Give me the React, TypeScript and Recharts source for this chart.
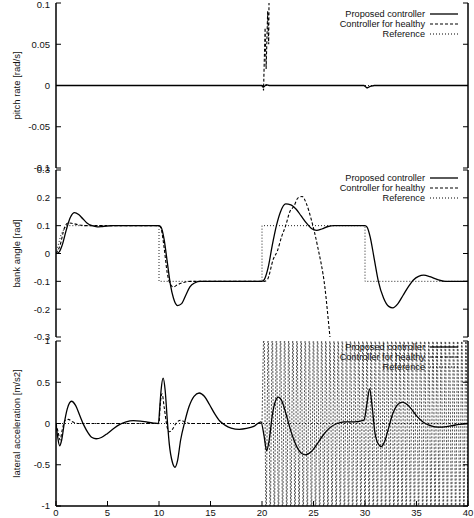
import { LineChart, Line, XAxis, YAxis, Legend } from "recharts"

// time axis
const xTicks = [0, 5, 10, 15, 20, 25, 30, 35, 40]

// pitch rate [rad/s]
const tPitchProp = [0, 20, 20.15, 20.4, 20.7, 29.9, 30.2, 30.5, 30.9, 40]
const pitchProp = [0, 0, -0.002, 0.001, 0, 0, -0.003, -0.001, 0, 0]
const tPitchHealthy = [0, 20, 20.15, 20.3, 20.4, 20.55, 20.65, 20.8, 40]
const pitchHealthy = [0, 0, -0.006, 0.07, 0.02, 0.09, 0.05, 0.3, 0.3]
const tPitchRef = [0, 40]
const pitchRef = [0, 0]
const pitchTicks = [-0.1, -0.05, 0, 0.05, 0.1]

// bank angle [rad]
const tBankProp = [
  0, 0.3, 0.6, 1.0, 1.4, 1.8, 2.2, 2.6, 3.0, 3.5, 4.0, 4.5, 5.5, 10, 10.2, 10.5, 10.8, 11.1, 11.4, 11.8,
  12.2, 12.6, 13.0, 13.5, 14.0, 20, 20.2, 20.6, 21.0, 21.4, 21.8, 22.3, 22.8, 23.3, 23.8, 24.3, 24.8, 25.3,
  25.8, 26.4, 27, 30, 30.2, 30.5, 30.9, 31.3, 31.8, 32.3, 32.7, 33.2, 33.7, 34.2, 34.7, 35.2, 35.7, 36.3, 37,
  37.8, 40,
]
const bankProp = [
  0, 0.005, 0.03, 0.085, 0.13, 0.147, 0.14, 0.125, 0.11, 0.1, 0.096, 0.097, 0.1, 0.1, 0.095, 0.05, -0.03, -0.11,
  -0.16, -0.187, -0.18, -0.15, -0.12, -0.105, -0.1, -0.1, -0.095, -0.05, 0.03, 0.1, 0.15, 0.178, 0.175, 0.16,
  0.135, 0.11, 0.09, 0.083, 0.088, 0.097, 0.1, 0.1, 0.095, 0.06, -0.02, -0.1, -0.16, -0.19, -0.195, -0.18, -0.15,
  -0.12, -0.095, -0.082, -0.078, -0.083, -0.093, -0.1, -0.1,
]
const tBankHealthy = [
  0, 0.4, 0.8, 1.2, 1.6, 2.2, 3, 10, 10.2, 10.5, 10.8, 11.1, 11.4, 11.8, 12.4, 13, 20, 20.2, 20.5, 21.1, 21.5,
  21.9, 22.3, 22.7, 23.1, 23.5, 23.9, 24.3, 24.8, 25.4, 26.1, 26.6, 27.2,
]
const bankHealthy = [
  0, 0.03, 0.09, 0.11, 0.108, 0.103, 0.1, 0.1, 0.09, 0.02, -0.07, -0.11, -0.12, -0.112, -0.104, -0.1, -0.1, -0.1,
  -0.095, -0.02, 0.01, 0.06, 0.1, 0.15, 0.17, 0.2, 0.205, 0.18, 0.12, 0.025, -0.12, -0.3, -0.5,
]
const tBankRef = [0, 0.5, 1, 10, 10, 20, 20, 30, 30, 40]
const bankRef = [0, 0.07, 0.1, 0.1, -0.1, -0.1, 0.1, 0.1, -0.1, -0.1]
const bankTicks = [-0.3, -0.2, -0.1, 0, 0.1, 0.2, 0.3]

// lateral acceleration [m/s2]
const tLatProp = [
  0, 0.15, 0.35, 0.55, 0.8, 1.1, 1.5, 1.9, 2.3, 2.7, 3.1, 3.5, 3.9, 4.4, 5.0, 5.6, 6.2, 6.8, 7.5, 8.2, 8.9, 9.5,
  9.95, 10.05, 10.2, 10.4, 10.6, 10.8, 11.0, 11.3, 11.55, 11.8, 12.1, 12.5, 12.9, 13.4, 13.9, 14.4, 14.9, 15.4,
  15.9, 16.4, 17, 17.8, 18.5, 19.2, 19.9, 20.2, 20.45, 20.7, 21.0, 21.3, 21.6, 21.9, 22.3, 22.7, 23.1, 23.6,
  24.2, 24.8, 25.4, 26, 26.6, 27.3, 28, 29, 29.9, 30.2, 30.45, 30.7, 30.95, 31.3, 31.6, 31.9, 32.3, 32.7, 33.1,
  33.6, 34.1, 34.6, 35.1, 35.6, 36.2, 36.8, 37.5, 38.3, 39.2, 40,
]
const latProp = [
  0, -0.15, -0.27, -0.2, 0.0, 0.18, 0.27, 0.22, 0.1, -0.02, -0.11, -0.17, -0.185, -0.17, -0.12, -0.06, -0.01,
  0.02, 0.035, 0.03, 0.015, 0.005, 0.0, 0.15, 0.4, 0.55, 0.4, 0.05, -0.25, -0.47, -0.53, -0.45, -0.2, 0.02, 0.2,
  0.33, 0.37, 0.33, 0.23, 0.12, 0.03, -0.02, -0.055, -0.07, -0.06, -0.035, 0.02, -0.15, -0.33, -0.2, 0.1, 0.27,
  0.32, 0.28, 0.13, -0.05, -0.2, -0.33, -0.38, -0.34, -0.24, -0.13, -0.05, 0.0, 0.02, 0.02, 0.04, 0.25, 0.42,
  0.2, -0.1, -0.25, -0.28, -0.22, -0.05, 0.12, 0.22, 0.26, 0.23, 0.16, 0.08, 0.02, -0.02, -0.04, -0.045, -0.03,
  -0.01, 0,
]
const tLatHealthy = [
  0, 0.2, 0.4, 0.6, 0.9, 1.2, 1.6, 2.2, 10, 10.1, 10.3, 10.5, 10.8, 11.0, 11.3, 11.7, 12.1, 12.5, 13, 20,
]
const latHealthy = [
  0, -0.1, -0.2, -0.08, 0.04, 0.05, 0.02, 0.0, 0, 0.2, 0.36, 0.2, -0.05, -0.1, -0.07, 0.01, 0.04, 0.02, 0, 0,
]
// healthy controller diverges after t = 20 s, sampled every 0.2 s
const latHatchStart = 20
const latHatchStep = 0.2
const latHealthyHatch = [
  0,
  1.4, -1.4, 1.4, -1.4, 1.4, -1.4, 1.4, -1.4, 1.4, -1.4,
  1.4, -1.4, 1.4, -1.4, 1.4, -1.4, 1.4, -1.4, 1.4, -1.4,
  1.4, -1.4, 1.4, -1.4, 1.4, -1.4, 1.4, -1.4, 1.4, -1.4,
  1.4, -1.4, 1.4, -1.4, 1.4, -1.4, 1.4, -1.4, 1.4, -1.4,
  1.4, -1.4, 1.4, -1.4, 1.4, -1.4, 1.4, -1.4, 1.4, -1.4,
  1.4, -1.4, 1.4, -1.4, 1.4, -1.4, 1.4, -1.4, 1.4, -1.4,
  1.4, -1.4, 1.4, -1.4, 1.4, -1.4, 1.4, -1.4, 1.4, -1.4,
  1.4, -1.4, 1.4, -1.4, 1.4, -1.4, 1.4, -1.4, 1.4, -1.4,
  1.4, -1.4, 1.4, -1.4, 1.4, -1.4, 1.4, -1.4, 1.4, -1.4,
  1.4, -1.4, 1.4, -1.4, 1.4, -1.4, 1.4, -1.4, 1.4, -1.4,
]
const tLatRef = [0, 40]
const latRef = [0, 0]
const latTicks = [-1, -0.5, 0, 0.5, 1]

const zip = (t: number[], v: number[]) => t.map((x, i) => ({ t: x, v: v[i] }))

const font = "'Liberation Sans', Arial, sans-serif"
const ink = "#111"

const legendRows = [
  { name: "Proposed controller", dash: undefined, w: 1.3 },
  { name: "Controller for healthy", dash: "3 2", w: 1.1 },
  { name: "Reference", dash: "1 2", w: 1 },
]

function LegendBox() {
  return (
    <div style={{ fontFamily: font, fontSize: 9.2, color: ink }}>
      {legendRows.map((r) => (
        <div key={r.name} style={{ display: "flex", alignItems: "center", height: 10 }}>
          <span style={{ width: 125, textAlign: "right", lineHeight: "10px", whiteSpace: "nowrap" }}>{r.name}</span>
          <svg width={33} height={10}>
            <line x1={5} x2={33} y1={5} y2={5} stroke="#000" strokeWidth={r.w} strokeDasharray={r.dash} />
          </svg>
        </div>
      ))}
    </div>
  )
}

type Kind = "prop" | "healthy" | "hatch" | "ref"
type Series = { data: { t: number; v: number }[]; kind: Kind; curve?: "monotone" | "linear" }

interface PanelProps {
  top: number
  height: number
  marginTop: number
  marginBottom: number
  domain: [number, number]
  ticks: number[]
  label: string
  series: Series[]
  xLabels?: boolean
  legendTop: number
}

const lineStyle = {
  prop: { stroke: "#000", strokeWidth: 1.3, strokeDasharray: undefined },
  healthy: { stroke: "#000", strokeWidth: 1.1, strokeDasharray: "3 2" },
  hatch: { stroke: "#222", strokeWidth: 0.8, strokeDasharray: "2 1.5" },
  ref: { stroke: "#222", strokeWidth: 1, strokeDasharray: "1 2" },
}

function Panel({ top, height, marginTop, marginBottom, domain, ticks, label, series, xLabels, legendTop }: PanelProps) {
  const tickStyle = { fontSize: 9.5, fill: ink, fontFamily: font }
  const axisLine = { stroke: "#000", strokeWidth: 1.5 }
  return (
    <div style={{ position: "absolute", left: 0, top }}>
      <LineChart width={474} height={height} margin={{ top: marginTop, right: 0, bottom: marginBottom, left: 0 }}>
        <XAxis
          xAxisId="b"
          type="number"
          dataKey="t"
          domain={[0, 40]}
          ticks={xTicks}
          orientation="bottom"
          height={xLabels ? 12 : 0}
          tickSize={-5}
          tickMargin={8}
          axisLine={axisLine}
          tickLine={{ stroke: "#000" }}
          tick={tickStyle}
          tickFormatter={(v) => (xLabels ? String(v) : "")}
          allowDataOverflow
        />
        <XAxis
          xAxisId="top"
          type="number"
          dataKey="t"
          domain={[0, 40]}
          ticks={xTicks}
          orientation="top"
          height={0}
          tickSize={-5}
          axisLine={axisLine}
          tickLine={{ stroke: "#000" }}
          tickFormatter={() => ""}
        />
        <YAxis
          yAxisId="l"
          type="number"
          domain={domain}
          ticks={ticks}
          width={56}
          tickSize={-5}
          tickMargin={11}
          axisLine={axisLine}
          tickLine={{ stroke: "#000" }}
          tick={tickStyle}
          tickFormatter={(v) => String(v)}
          allowDataOverflow
          label={{
            value: label,
            angle: -90,
            position: "insideLeft",
            offset: 17,
            style: { textAnchor: "middle", fontSize: 9.5, fill: ink, fontFamily: font },
          }}
        />
        <YAxis
          yAxisId="r"
          type="number"
          orientation="right"
          domain={domain}
          ticks={ticks}
          width={6}
          tickSize={-5}
          axisLine={axisLine}
          tickLine={{ stroke: "#000" }}
          tickFormatter={() => ""}
          allowDataOverflow
        />
        <Legend
          layout="vertical"
          align="center"
          verticalAlign="middle"
          content={() => <LegendBox />}
          wrapperStyle={{ left: 300, top: legendTop, width: 160, height: 30 }}
        />
        {series.map((s, i) => (
          <Line
            key={i}
            xAxisId="b"
            yAxisId="l"
            data={s.data}
            dataKey="v"
            type={s.curve ?? "monotone"}
            dot={false}
            activeDot={false}
            isAnimationActive={false}
            {...lineStyle[s.kind]}
          />
        ))}
      </LineChart>
    </div>
  )
}

export default function App() {
  const hatch = latHealthyHatch.map((v, i) => ({ t: latHatchStart + i * latHatchStep, v }))
  return (
    <div style={{ position: "absolute", left: 0, top: 0, width: 474, height: 518, background: "#fff" }}>
      <Panel
        top={0}
        height={180}
        marginTop={3}
        marginBottom={12}
        domain={[-0.1, 0.1]}
        ticks={pitchTicks}
        label="pitch rate [rad/s]"
        legendTop={9}
        series={[
          { data: zip(tPitchRef, pitchRef), kind: "ref", curve: "linear" },
          { data: zip(tPitchHealthy, pitchHealthy), kind: "healthy", curve: "linear" },
          { data: zip(tPitchProp, pitchProp), kind: "prop", curve: "linear" },
        ]}
      />
      <Panel
        top={160}
        height={190}
        marginTop={10}
        marginBottom={13}
        domain={[-0.3, 0.3]}
        ticks={bankTicks}
        label="bank angle [rad]"
        legendTop={13}
        series={[
          { data: zip(tBankRef, bankRef), kind: "ref", curve: "linear" },
          { data: zip(tBankHealthy, bankHealthy), kind: "healthy" },
          { data: zip(tBankProp, bankProp), kind: "prop" },
        ]}
      />
      <Panel
        top={330}
        height={188}
        marginTop={11}
        marginBottom={0}
        domain={[-1, 1]}
        ticks={latTicks}
        label="lateral acceleration [m/s2]"
        xLabels
        legendTop={12}
        series={[
          { data: zip(tLatRef, latRef), kind: "ref", curve: "linear" },
          { data: zip(tLatHealthy, latHealthy), kind: "healthy" },
          { data: hatch, kind: "hatch", curve: "linear" },
          { data: zip(tLatProp, latProp), kind: "prop" },
        ]}
      />
    </div>
  )
}
